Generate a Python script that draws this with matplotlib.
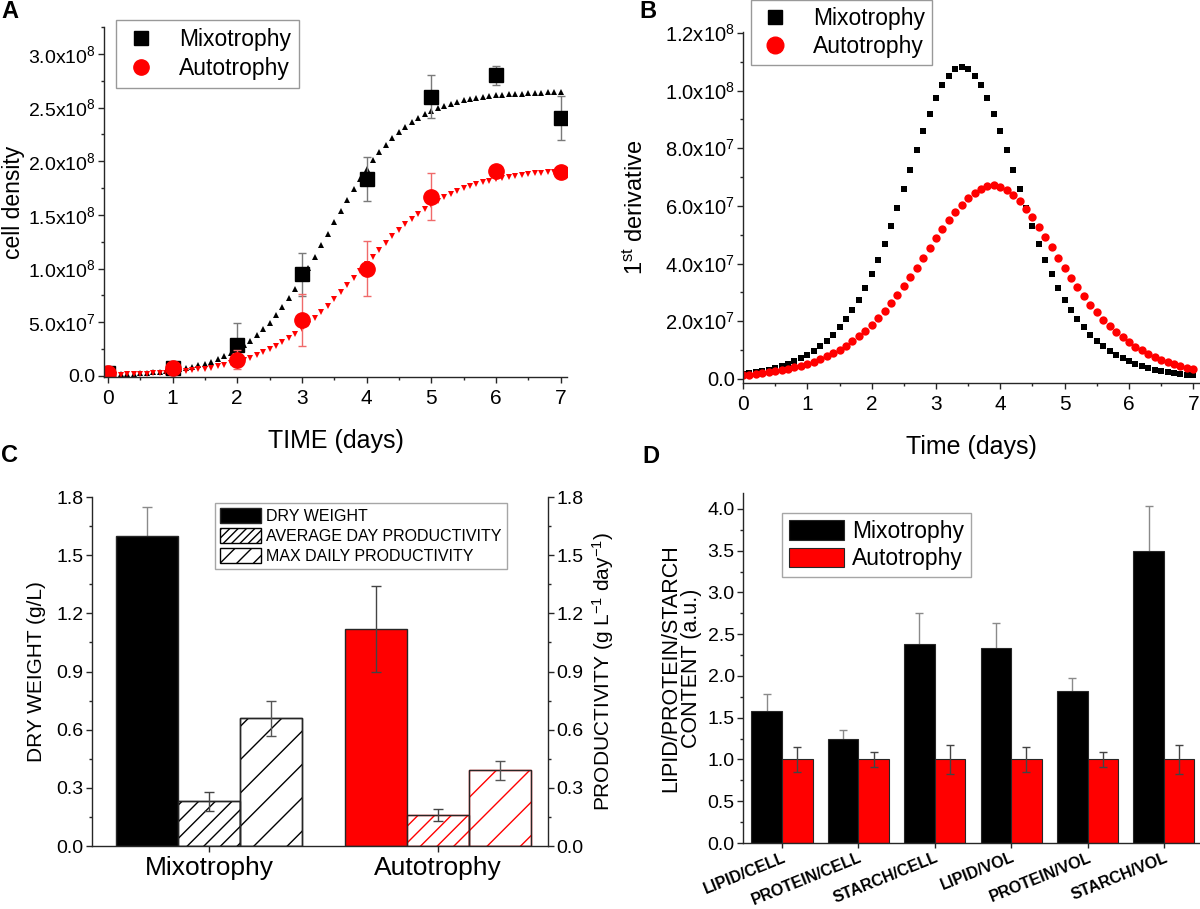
import numpy as np
import matplotlib.pyplot as plt
from matplotlib.patches import Patch
from matplotlib.lines import Line2D
from matplotlib.ticker import FuncFormatter, MultipleLocator

plt.rcParams['font.family'] = ['Liberation Sans', 'DejaVu Sans']
plt.rcParams['mathtext.default'] = 'regular'
plt.rcParams['hatch.linewidth'] = 1.0
plt.rcParams['axes.linewidth'] = 1.0

AXIS_COLOR = '#262626'

# ---- panel A: growth curves (cells) ----
days = [0, 1, 2, 3, 4, 5, 6, 7]
mixo_cells = [0.03e8, 0.07e8, 0.29e8, 0.945e8, 1.83e8, 2.60e8, 2.80e8, 2.40e8]
mixo_cells_err = [0.005e8, 0.01e8, 0.20e8, 0.20e8, 0.205e8, 0.20e8, 0.09e8, 0.205e8]
auto_cells = [0.025e8, 0.07e8, 0.15e8, 0.52e8, 1.00e8, 1.67e8, 1.91e8, 1.90e8]
auto_cells_err = [0.005e8, 0.01e8, 0.09e8, 0.24e8, 0.26e8, 0.22e8, 0.03e8, 0.02e8]

# fitted curves, read every 0.1 day (units of 1e8 cells)
t_fit = np.round(np.arange(0, 7.05, 0.1), 1)
mixo_fit = [0.010, 0.012, 0.014, 0.017, 0.020, 0.023, 0.027, 0.032, 0.038, 0.044,
            0.052, 0.061, 0.071, 0.084, 0.098, 0.115, 0.134, 0.156, 0.182, 0.212,
            0.246, 0.284, 0.328, 0.378, 0.434, 0.497, 0.566, 0.642, 0.724, 0.813,
            0.908, 1.007, 1.111, 1.217, 1.325, 1.433, 1.539, 1.643, 1.742, 1.837,
            1.926, 2.008, 2.084, 2.153, 2.216, 2.272, 2.322, 2.366, 2.405, 2.439,
            2.468, 2.494, 2.516, 2.535, 2.552, 2.566, 2.579, 2.589, 2.598, 2.606,
            2.612, 2.618, 2.623, 2.627, 2.630, 2.633, 2.636, 2.638, 2.640, 2.641, 2.643]
auto_fit = [0.009, 0.010, 0.012, 0.013, 0.015, 0.017, 0.020, 0.023, 0.026, 0.030,
            0.035, 0.040, 0.046, 0.052, 0.060, 0.068, 0.078, 0.089, 0.102, 0.116,
            0.132, 0.150, 0.170, 0.193, 0.219, 0.247, 0.279, 0.314, 0.352, 0.394,
            0.439, 0.488, 0.540, 0.596, 0.655, 0.716, 0.780, 0.845, 0.911, 0.978,
            1.045, 1.111, 1.176, 1.239, 1.299, 1.357, 1.411, 1.462, 1.510, 1.554,
            1.594, 1.631, 1.664, 1.695, 1.722, 1.746, 1.768, 1.788, 1.805, 1.820,
            1.834, 1.846, 1.856, 1.865, 1.874, 1.881, 1.887, 1.892, 1.897, 1.901, 1.905]

# ---- panel B: first derivative (units of 1e7) ----
mixo_deriv = [0.17, 0.20, 0.23, 0.27, 0.32, 0.38, 0.44, 0.52, 0.61, 0.71,
              0.83, 0.97, 1.13, 1.32, 1.54, 1.79, 2.08, 2.40, 2.75, 3.17,
              3.63, 4.14, 4.68, 5.29, 5.92, 6.58, 7.25, 7.93, 8.58, 9.19,
              9.73, 10.18, 10.52, 10.73, 10.80, 10.73, 10.52, 10.18, 9.73, 9.19,
              8.58, 7.93, 7.25, 6.58, 5.92, 5.29, 4.68, 4.14, 3.63, 3.17,
              2.75, 2.40, 2.08, 1.79, 1.54, 1.32, 1.13, 0.97, 0.83, 0.71,
              0.61, 0.52, 0.44, 0.38, 0.32, 0.27, 0.23, 0.20, 0.17, 0.14, 0.12]
auto_deriv = [0.13, 0.15, 0.17, 0.20, 0.23, 0.26, 0.30, 0.35, 0.40, 0.45,
              0.52, 0.60, 0.68, 0.78, 0.89, 1.01, 1.15, 1.30, 1.48, 1.67,
              1.88, 2.10, 2.35, 2.62, 2.91, 3.21, 3.53, 3.86, 4.20, 4.53,
              4.87, 5.20, 5.51, 5.79, 6.04, 6.27, 6.46, 6.60, 6.69, 6.71,
              6.66, 6.55, 6.39, 6.17, 5.90, 5.60, 5.27, 4.93, 4.57, 4.21,
              3.86, 3.51, 3.19, 2.87, 2.58, 2.31, 2.06, 1.83, 1.63, 1.44,
              1.27, 1.12, 0.99, 0.87, 0.76, 0.67, 0.59, 0.51, 0.45, 0.39, 0.34]

# ---- panel C: dry weight / productivity ----
conditions = ['Mixotrophy', 'Autotrophy']
dry_weight = [1.60, 1.12]
dry_weight_err = [0.15, 0.22]
avg_prod = [0.23, 0.16]
avg_prod_err = [0.05, 0.03]
max_prod = [0.66, 0.39]
max_prod_err = [0.09, 0.05]

# ---- panel D: relative content ----
content_labels = ['LIPID/CELL', 'PROTEIN/CELL', 'STARCH/CELL',
                  'LIPID/VOL', 'PROTEIN/VOL', 'STARCH/VOL']
mixo_content = [1.58, 1.24, 2.38, 2.33, 1.82, 3.50]
mixo_content_err = [0.20, 0.11, 0.37, 0.30, 0.16, 0.54]
auto_content = [1.0, 1.0, 1.0, 1.0, 1.0, 1.0]
auto_content_err = [0.15, 0.095, 0.175, 0.15, 0.095, 0.175]


def sci_fmt(v, pos):
    if abs(v) < 1:
        return '0.0'
    e = int(np.floor(np.log10(abs(v)) + 1e-9))
    m = v / 10 ** e
    return '%.1fx10$^{%d}$' % (m, e)


def style_axes(ax, tick_size=15):
    for s in ['top', 'right']:
        ax.spines[s].set_visible(False)
    for s in ['left', 'bottom']:
        ax.spines[s].set_color(AXIS_COLOR)
    ax.tick_params(which='both', direction='out', color=AXIS_COLOR, labelsize=tick_size)
    ax.tick_params(which='major', length=4.5, width=1)
    ax.tick_params(which='minor', length=2.5, width=1)
    ax.tick_params(axis='y', pad=1.5)
    ax.tick_params(axis='x', pad=4)


fig = plt.figure(figsize=(12, 9.09), dpi=100)
ax_a = fig.add_axes([0.0867, 0.5853, 0.3858, 0.385])
ax_b = fig.add_axes([0.6192, 0.5787, 0.38, 0.3861])
ax_c = fig.add_axes([0.0767, 0.0693, 0.38, 0.3839])
ax_d = fig.add_axes([0.6192, 0.0726, 0.38, 0.3850])

# ---------- A ----------
style_axes(ax_a)
ax_a.tick_params(axis='y', labelsize=14)
ax_a.plot(t_fit, np.array(mixo_fit) * 1e8, ls='none', marker='^', ms=4, color='black', mew=0)
ax_a.plot(t_fit, np.array(auto_fit) * 1e8, ls='none', marker='v', ms=4, color='red', mew=0)
ax_a.errorbar(days, mixo_cells, yerr=mixo_cells_err, fmt='none', ecolor='#7a7a7a',
              elinewidth=1, capsize=3, capthick=1)
ax_a.plot(days, mixo_cells, ls='none', marker='s', ms=9.5, color='black')
ax_a.errorbar(days, auto_cells, yerr=auto_cells_err, fmt='none', ecolor='#f06a6a',
              elinewidth=1, capsize=3, capthick=1)
ax_a.plot(days, auto_cells, ls='none', marker='o', ms=11, color='red')
ax_a.set_xlim(-0.06, 7.1)
ax_a.set_ylim(-0.01e8, 3.25e8)
ax_a.xaxis.set_major_locator(MultipleLocator(1))
ax_a.xaxis.set_minor_locator(MultipleLocator(0.5))
ax_a.yaxis.set_major_locator(MultipleLocator(0.5e8))
ax_a.yaxis.set_minor_locator(MultipleLocator(0.25e8))
ax_a.yaxis.set_major_formatter(FuncFormatter(sci_fmt))
ax_a.set_xlabel('TIME (days)', fontsize=18, labelpad=15)
ax_a.set_ylabel('cell density', fontsize=16.5)
ax_a.yaxis.set_label_coords(-0.171, 0.5)
leg_a = [Line2D([], [], ls='none', marker='s', ms=9.5, color='black'),
         Line2D([], [], ls='none', marker='o', ms=11, color='red')]
lg = ax_a.legend(leg_a, ['Mixotrophy', 'Autotrophy'], loc='upper left',
                 bbox_to_anchor=(0.026, 1.02), borderaxespad=0, fontsize=16.5,
                 frameon=True, fancybox=False, edgecolor='#808080',
                 handlelength=1.5, handletextpad=0.9, labelspacing=0.25, borderpad=0.35)
lg.get_frame().set_linewidth(1)

# ---------- B ----------
style_axes(ax_b)
ax_b.tick_params(axis='y', labelsize=14.5)
ax_b.plot(t_fit, np.array(mixo_deriv) * 1e7, ls='none', marker='s', ms=5, color='black', mew=0)
ax_b.plot(t_fit, np.array(auto_deriv) * 1e7, ls='none', marker='o', ms=6, color='red', mew=0)
ax_b.set_xlim(0, 7.09)
ax_b.set_ylim(-0.14e7, 1.203e8)
ax_b.xaxis.set_major_locator(MultipleLocator(1))
ax_b.xaxis.set_minor_locator(MultipleLocator(0.5))
ax_b.yaxis.set_major_locator(MultipleLocator(2e7))
ax_b.yaxis.set_minor_locator(MultipleLocator(1e7))
ax_b.yaxis.set_major_formatter(FuncFormatter(sci_fmt))
ax_b.set_xlabel('Time (days)', fontsize=18, labelpad=15)
ax_b.set_ylabel('1$^{st}$ derivative', fontsize=17)
ax_b.yaxis.set_label_coords(-0.208, 0.5)
leg_b = [Line2D([], [], ls='none', marker='s', ms=9.5, color='black'),
         Line2D([], [], ls='none', marker='o', ms=12, color='red')]
lg = ax_b.legend(leg_b, ['Mixotrophy', 'Autotrophy'], loc='upper left',
                 bbox_to_anchor=(0.0175, 1.09), borderaxespad=0, fontsize=16.5,
                 frameon=True, fancybox=False, edgecolor='#808080',
                 handlelength=1.5, handletextpad=0.9, labelspacing=0.2, borderpad=0.3)
lg.get_frame().set_linewidth(1)

# ---------- C ----------
style_axes(ax_c, tick_size=14)
ax_c.spines['right'].set_visible(False)
xc = np.arange(1, len(conditions) + 1)
w = 0.27
main_colors = ['black', 'red']
ax_c.bar(xc - w, dry_weight, w, color=main_colors, edgecolor=AXIS_COLOR, lw=1, zorder=2)
ax_c.bar(xc, avg_prod, w, color='white', edgecolor=main_colors, hatch='//', lw=1, zorder=2)
ax_c.bar(xc, avg_prod, w, fill=False, edgecolor=AXIS_COLOR, lw=1, zorder=2.1)
ax_c.bar(xc + w, max_prod, w, color='white', edgecolor=main_colors, hatch='/', lw=1, zorder=2)
ax_c.bar(xc + w, max_prod, w, fill=False, edgecolor=AXIS_COLOR, lw=1, zorder=2.1)
ax_c.errorbar(xc[0] - w, dry_weight[0], yerr=dry_weight_err[0], fmt='none', ecolor='#8a8a8a',
              elinewidth=1, capsize=3.5, zorder=1.5)
ax_c.errorbar(xc[1] - w, dry_weight[1], yerr=dry_weight_err[1], fmt='none', ecolor='#444444',
              elinewidth=1, capsize=3.5, zorder=3)
ax_c.errorbar(xc, avg_prod, yerr=avg_prod_err, fmt='none', ecolor='#444444',
              elinewidth=1, capsize=3.5, zorder=3)
ax_c.errorbar(xc + w, max_prod, yerr=max_prod_err, fmt='none', ecolor='#555555',
              elinewidth=1, capsize=3.5, zorder=3)
ax_c.set_xlim(0.489, 2.48)
ax_c.set_ylim(0, 1.8)
ax_c.set_xticks(xc)
ax_c.set_xticklabels(conditions, fontsize=19)
ax_c.yaxis.set_major_locator(MultipleLocator(0.3))
ax_c.yaxis.set_minor_locator(MultipleLocator(0.15))
ax_c.yaxis.set_major_formatter(FuncFormatter(lambda v, p: '%.1f' % v))
ax_c.tick_params(axis='x', pad=3)
ax_c.set_ylabel('DRY WEIGHT (g/L)', fontsize=15)
ax_c.yaxis.set_label_coords(-0.10, 0.5)
ax_c2 = ax_c.twinx()
ax_c2.set_ylim(0, 1.8)
for s in ['top', 'left', 'bottom']:
    ax_c2.spines[s].set_visible(False)
ax_c2.spines['right'].set_color(AXIS_COLOR)
ax_c2.yaxis.set_major_locator(MultipleLocator(0.3))
ax_c2.yaxis.set_minor_locator(MultipleLocator(0.15))
ax_c2.yaxis.set_major_formatter(FuncFormatter(lambda v, p: '%.1f' % v))
ax_c2.tick_params(which='both', direction='out', color=AXIS_COLOR, labelsize=14, pad=1.5)
ax_c2.tick_params(which='major', length=4.5, width=1)
ax_c2.tick_params(which='minor', length=2.5, width=1)
ax_c2.set_ylabel('PRODUCTIVITY (g L$^{-1}$ day$^{-1}$)', fontsize=15)
ax_c2.yaxis.set_label_coords(1.092, 0.5)
leg_c = [Patch(facecolor='black', edgecolor=AXIS_COLOR),
         Patch(facecolor='white', edgecolor='black', hatch='////'),
         Patch(facecolor='white', edgecolor='black', hatch='//')]
lg = ax_c.legend(leg_c, ['DRY WEIGHT', 'AVERAGE DAY PRODUCTIVITY', 'MAX DAILY PRODUCTIVITY'],
                 loc='upper left', bbox_to_anchor=(0.27, 0.983), borderaxespad=0,
                 fontsize=11.5, frameon=True, fancybox=False, edgecolor='#909090',
                 handlelength=2.6, handleheight=1.1, handletextpad=0.3,
                 labelspacing=0.25, borderpad=0.3)
lg.get_frame().set_linewidth(1)

# ---------- D ----------
style_axes(ax_d, tick_size=14)
xd = np.arange(1, len(content_labels) + 1)
wd = 0.4
ax_d.bar(xd - wd / 2, mixo_content, wd, color='black', edgecolor=AXIS_COLOR, lw=0.8,
         zorder=2, label='Mixotrophy')
ax_d.bar(xd + wd / 2, auto_content, wd, color='red', edgecolor=AXIS_COLOR, lw=0.8,
         zorder=2, label='Autotrophy')
ax_d.errorbar(xd - wd / 2, mixo_content, yerr=mixo_content_err, fmt='none', ecolor='#8a8a8a',
              elinewidth=1, capsize=3, zorder=1.5)
ax_d.errorbar(xd + wd / 2, auto_content, yerr=auto_content_err, fmt='none', ecolor='#444444',
              elinewidth=1, capsize=3, zorder=3)
ax_d.set_xlim(0.49, 6.46)
ax_d.set_ylim(0, 4.19)
ax_d.set_xticks(xd)
ax_d.set_xticklabels(content_labels, rotation=22, ha='right', rotation_mode='anchor',
                     fontsize=11.5, fontweight='bold')
ax_d.tick_params(axis='x', length=3.5, pad=1.5)
ax_d.yaxis.set_major_locator(MultipleLocator(0.5))
ax_d.yaxis.set_minor_locator(MultipleLocator(0.25))
ax_d.yaxis.set_major_formatter(FuncFormatter(lambda v, p: '%.1f' % v))
ax_d.set_ylabel('LIPID/PROTEIN/STARCH\nCONTENT (a.u.)', fontsize=15.5, linespacing=1.0)
ax_d.yaxis.set_label_coords(-0.09, 0.5)
lg = ax_d.legend(loc='upper left', bbox_to_anchor=(0.0855, 0.943), borderaxespad=0,
                 fontsize=16.5, frameon=True, fancybox=False, edgecolor='#909090',
                 handlelength=2.4, handleheight=0.95, handletextpad=0.35,
                 labelspacing=0.2, borderpad=0.3)
lg.get_frame().set_linewidth(1)

# panel letters
for x, y, letter in [(0.001, 0.987, 'A'), (0.533, 0.987, 'B'),
                     (0.001, 0.499, 'C'), (0.535, 0.498, 'D')]:
    fig.text(x, y, letter, fontsize=17, fontweight='bold', va='center', ha='left')

fig.savefig('out.png', dpi=100)
